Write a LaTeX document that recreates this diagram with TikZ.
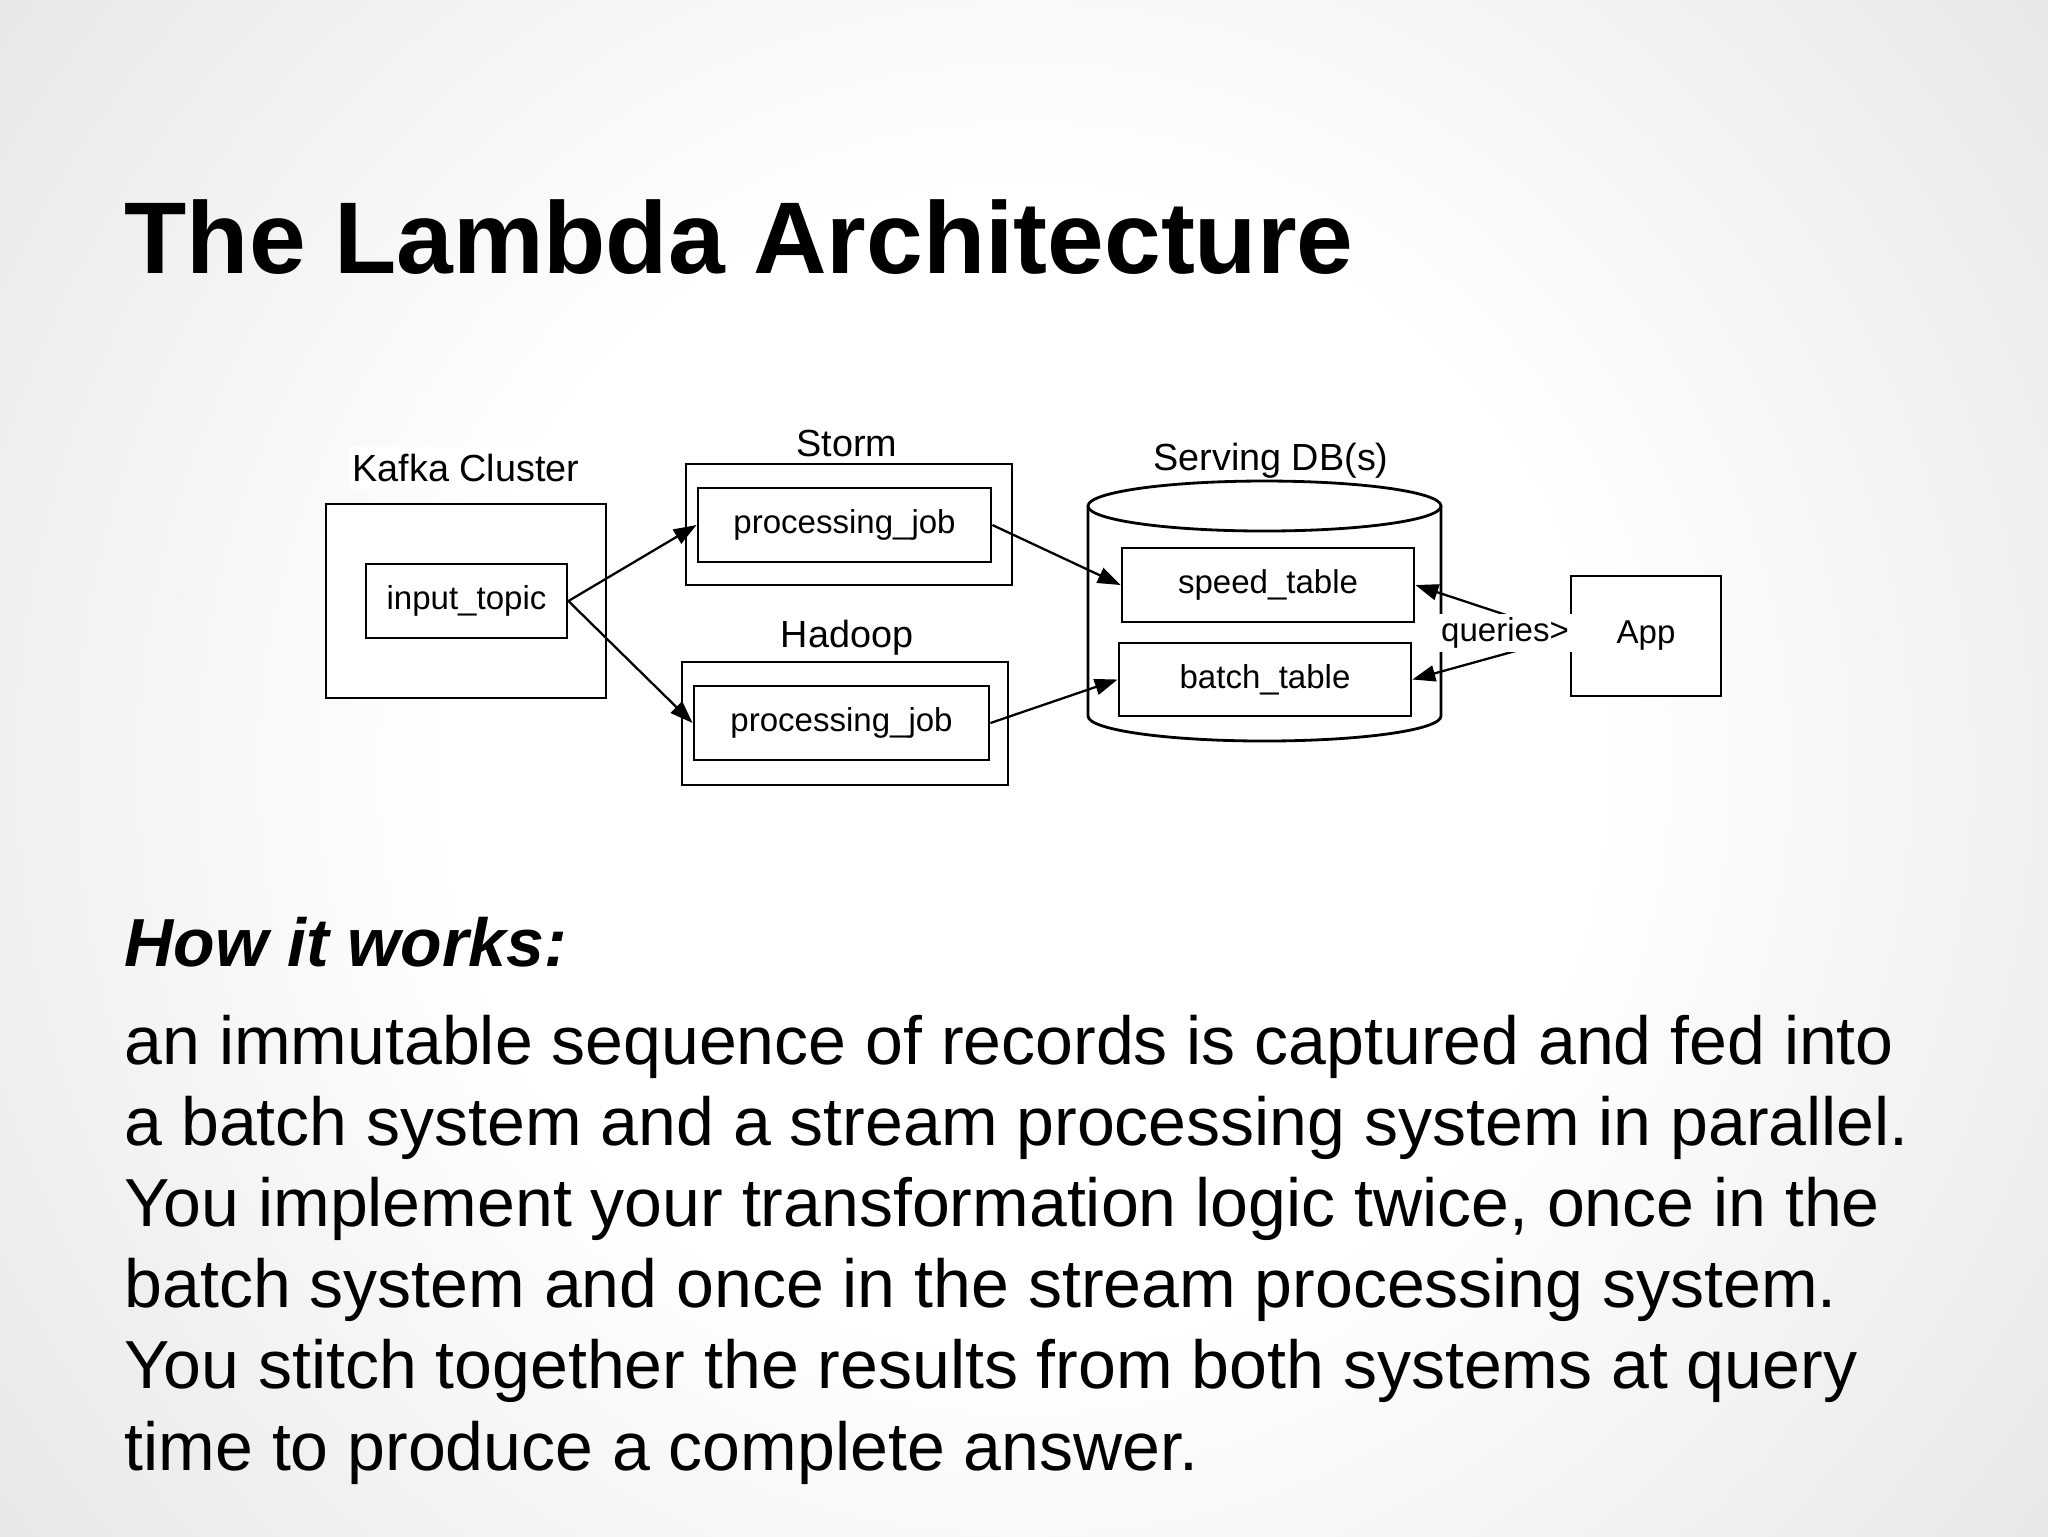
\documentclass[tikz,border=0pt]{standalone}
\usepackage{fontspec}
\setmainfont{Liberation Sans}
\definecolor{slideGray}{HTML}{D4D4D4}
\definecolor{slideEdge}{HTML}{C8C8C8}
\usepackage{tikz}
\usetikzlibrary{arrows.meta, positioning, shapes}
\pgfdeclareradialshading{slideglow}{\pgfpoint{0bp}{0bp}}{color(0bp)=(white); color(11bp)=(white); color(36bp)=(slideGray); color(50bp)=(slideEdge)}

\tikzset{
  box/.style={draw, fill=white, line width=0.8pt, inner sep=0pt},
  jobbox/.style={box, font=\fontsize{9.4}{11}\selectfont},
  grouplabel/.style={fill=white, inner xsep=1pt, inner ysep=2pt, font=\fontsize{10.75}{13}\selectfont},
  flow/.style={line width=0.65pt, -{Triangle[length=6.5pt,width=4.6pt]}}
}

\begin{document}
\begin{tikzpicture}[x=0.1mm, y=-0.1mm]
  \useasboundingbox (0,0) rectangle (2048,1536);
  \begin{scope}
    \clip (0,0) rectangle (2048,1536);
    \shade[shading=slideglow] (1024,768) circle[radius=130mm];
  \end{scope}

  \node[anchor=base west, inner sep=0pt, font=\fontsize{29}{35}\selectfont\bfseries] (title) at (124,273) {The Lambda Architecture};

  % kafka
  \node[box, minimum width=28mm, minimum height=19.4mm] (kafka) at (466,601) {};
  \node[grouplabel] (kafkalabel) at (466,468) {Kafka Cluster};
  \node[jobbox, minimum width=20.1mm, minimum height=7.4mm] (topic) at (466.5,601) {input\_topic};

  % storm / hadoop
  \node[box, minimum width=32.6mm, minimum height=12.1mm] (storm) at (849,524.5) {};
  \node[grouplabel, fill=none] (stormlabel) at (847,443) {Storm};
  \node[jobbox, minimum width=29.3mm, minimum height=7.4mm] (stormjob) at (844.5,525) {processing\_job};
  \node[box, minimum width=32.6mm, minimum height=12.3mm] (hadoop) at (845,723.5) {};
  \node[grouplabel, fill=none] (hadooplabel) at (847,638) {Hadoop};
  \node[jobbox, minimum width=29.5mm, minimum height=7.4mm] (hadoopjob) at (841.5,723) {processing\_job};

  % serving db
  \draw[line width=0.8pt, fill=white] (1088,506) -- (1088,716)
    arc[start angle=180, end angle=360, x radius=17.65mm, y radius=2.5mm] -- (1441,506);
  \draw[line width=0.8pt, fill=white] (1264.5,506) ellipse[x radius=17.65mm, y radius=2.5mm];
  \node[grouplabel, fill=none] (dblabel) at (1271,461) {Serving DB(s)};
  \node[jobbox, minimum width=29.2mm, minimum height=7.4mm] (speed) at (1268,585) {speed\_table};
  \node[jobbox, minimum width=29.2mm, minimum height=7.3mm] (batch) at (1265,679.5) {batch\_table};

  \node[jobbox, minimum width=15mm, minimum height=12mm] (app) at (1646,636) {App};

  \draw[flow] (topic.east) -- (stormjob.west);
  \draw[flow] (topic.east) -- (hadoopjob.west);
  \draw[flow] (stormjob.east) -- (speed.west);
  \draw[flow] (hadoopjob.east) -- (batch.west);
  \draw[flow] (app.west) -- (speed.east);
  \draw[flow] (app.west) -- (batch.east);
  \node[fill=white, inner sep=1pt, font=\fontsize{9.4}{11}\selectfont] (queries) at (1505,633) {queries>};

  % text
  \node[anchor=base west, inner sep=0pt, font=\fontsize{19.35}{23}\selectfont\bfseries\itshape] (howlabel) at (124,966) {How it works:};
  \node[anchor=base west, align=left, inner sep=0pt, font=\fontsize{19.35}{23.1}\selectfont] (body) at (124,1470) {an immutable sequence of records is captured and fed into\\
    a batch system and a stream processing system in parallel.\\
    You implement your transformation logic twice, once in the\\
    batch system and once in the stream processing system.\\
    You stitch together the results from both systems at query\\
    time to produce a complete answer.};
\end{tikzpicture}
\end{document}
